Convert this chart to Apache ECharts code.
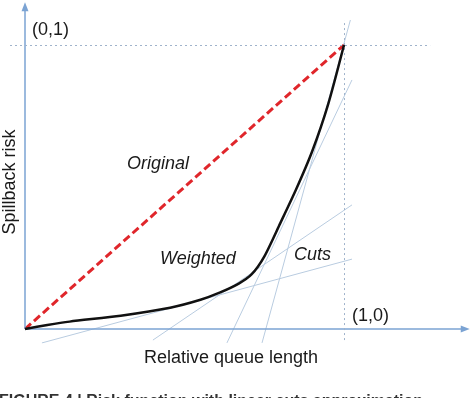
<!DOCTYPE html>
<html>
<head>
<meta charset="utf-8">
<script src="https://cdn.jsdelivr.net/npm/echarts@6/dist/echarts.min.js"></script>
<style>html,body{margin:0;padding:0;background:#fff}#c{width:474px;height:398px}</style>
</head>
<body>
<div id="c"></div>
<script>
// Weighted risk curve
const curveX = [0, 0.07, 0.14, 0.30, 0.455, 0.55, 0.61, 0.67, 0.71, 0.75, 0.80, 0.85, 0.90, 0.95, 1.0];
const curveY = [0, 0.014, 0.026, 0.047, 0.075, 0.103, 0.128, 0.16, 0.192, 0.255, 0.372, 0.492, 0.625, 0.79, 1.0];
// Original (linear) risk
const origX = [0, 1];
const origY = [0, 1];
// Linear cuts (tangent lines)
const cutStartX = [0.053, 0.401, 0.633, 0.743];
const cutStartY = [-0.049, -0.039, -0.049, -0.049];
const cutEndX = [1.025, 1.025, 1.025, 1.020];
const cutEndY = [0.246, 0.437, 0.877, 1.088];
// Reference guide lines
const guideH = [[-0.047, 1], [1.27, 1]];
const guideV = [[1, -0.039], [1, 1.088]];
const axisEnds = { x: 1.38, y: 1.135 };

const axisColor = '#7BA3D3';
const font = '"Liberation Sans", Arial, Helvetica, sans-serif';

const chart = echarts.init(document.getElementById('c'), null, { renderer: 'canvas' });

const series = [];
// axes with arrows
series.push({
  type: 'line', data: [], silent: true,
  markLine: {
    silent: true, animation: false,
    symbol: ['none', 'triangle'], symbolSize: [7, 9],
    label: { show: false },
    lineStyle: { type: 'solid', color: axisColor, width: 1.5 },
    data: [
      [{ coord: [0, 0] }, { coord: [axisEnds.x, 0] }],
      [{ coord: [0, 0] }, { coord: [0, axisEnds.y] }]
    ]
  }
});
// dotted guides
series.push({
  type: 'line', data: [], silent: true,
  markLine: {
    silent: true, animation: false, symbol: ['none', 'none'],
    label: { show: false },
    lineStyle: { type: [2, 3], color: '#9FB3CB', width: 1 },
    data: [
      [{ coord: guideH[0] }, { coord: guideH[1] }],
      [{ coord: guideV[0] }, { coord: guideV[1] }]
    ]
  }
});
// cuts
for (let i = 0; i < cutStartX.length; i++) {
  series.push({
    type: 'line', symbol: 'none', silent: true, animation: false,
    lineStyle: { color: '#B9CCE0', width: 1 },
    data: [[cutStartX[i], cutStartY[i]], [cutEndX[i], cutEndY[i]]]
  });
}
// original
series.push({
  type: 'line', symbol: 'none', animation: false,
  lineStyle: { color: '#E0262B', width: 3, type: [8, 4] },
  data: origX.map((x, i) => [x, origY[i]])
});
// weighted
series.push({
  type: 'line', symbol: 'none', animation: false, smooth: 0.25,
  lineStyle: { color: '#111', width: 2.5 },
  data: curveX.map((x, i) => [x, curveY[i]]),
  z: 5
});

const txt = (x, y, s, opt) => Object.assign({
  type: 'text', x, y,
  style: Object.assign({ text: s, font: '18px ' + font, fill: '#1a1a1a', textAlign: 'left', textVerticalAlign: 'middle' }, opt || {})
});

chart.setOption({
  animation: false,
  grid: { left: 9.05, right: 2.4, top: 2.4, bottom: 54.8 },
  xAxis: { type: 'value', min: -0.05, max: 1.4, show: false },
  yAxis: { type: 'value', min: -0.05, max: 1.15, show: false },
  series,
  graphic: [
    txt(32, 30, '(0,1)'),
    txt(352, 316, '(1,0)'),
    txt(127, 164, 'Original', { font: 'italic 18px ' + font }),
    txt(160, 259, 'Weighted', { font: 'italic 18px ' + font }),
    txt(294, 255, 'Cuts', { font: 'italic 18px ' + font }),
    txt(231, 358, 'Relative queue length', { textAlign: 'center' }),
    { type: 'text', x: 10, y: 182, rotation: Math.PI / 2,
      style: { text: 'Spillback risk', font: '18px ' + font, fill: '#1a1a1a', textAlign: 'center', textVerticalAlign: 'middle' } },
    { type: 'text', x: -1, y: 394,
      style: { text: 'FIGURE 4 | Risk function with linear cuts approximation', font: 'bold 16px ' + font, fill: '#333', textAlign: 'left', textVerticalAlign: 'top' } }
  ]
});
</script>
</body>
</html>
